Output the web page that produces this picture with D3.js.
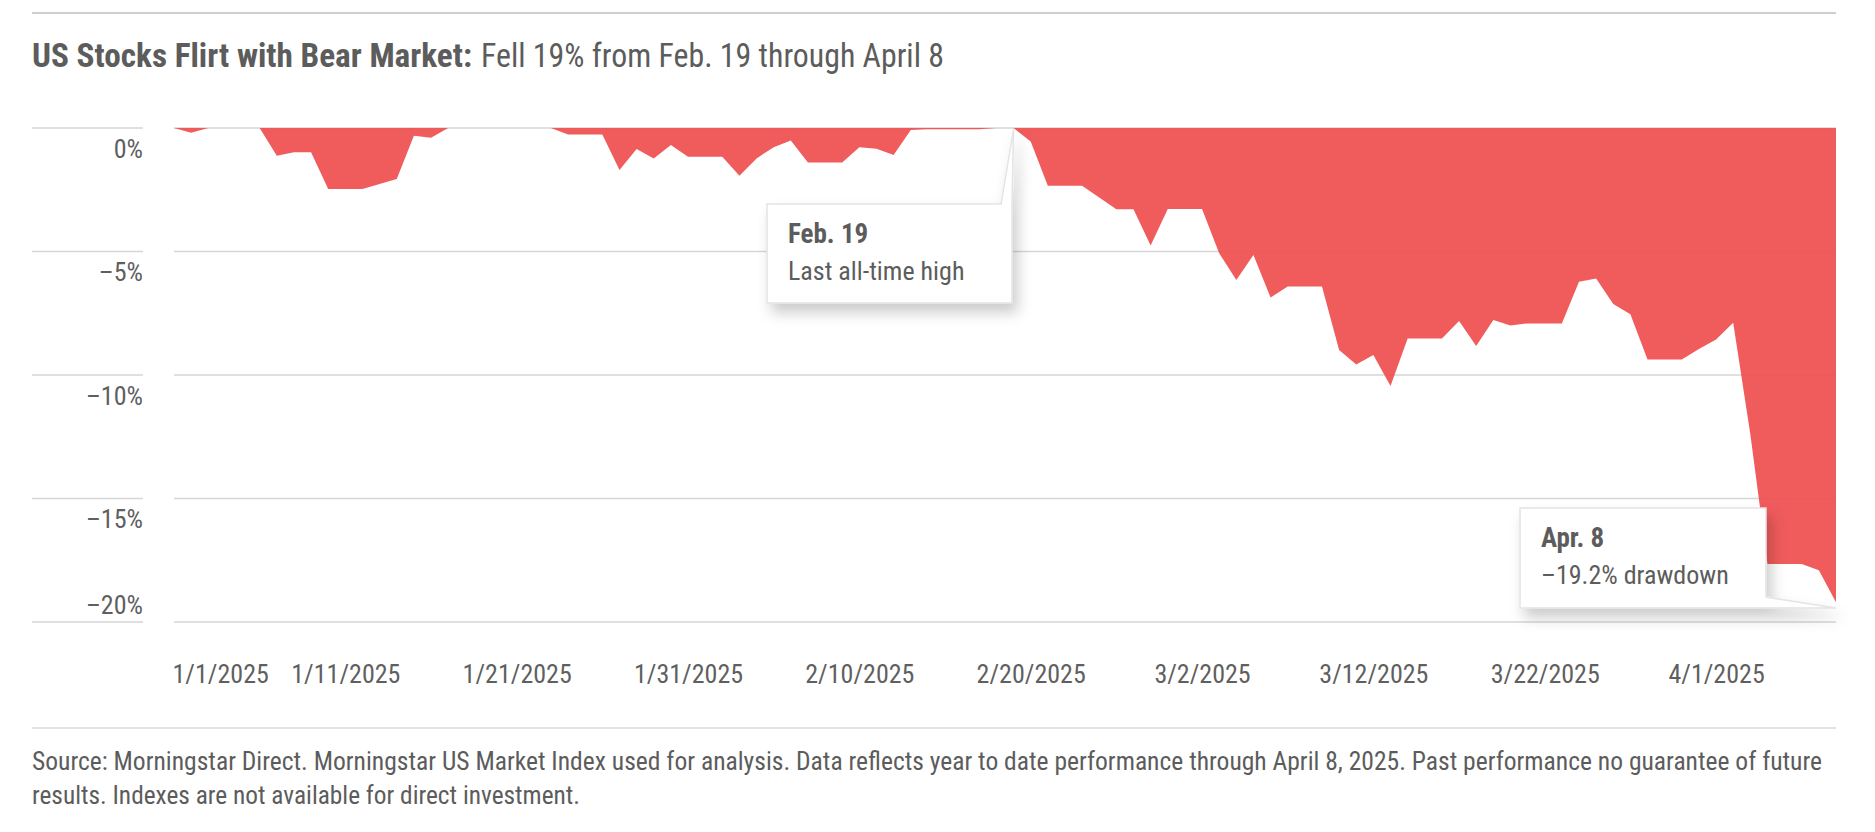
<!DOCTYPE html>
<html>
<head>
<meta charset="utf-8">
<script src="https://cdn.jsdelivr.net/npm/d3@7"></script>
<style>
  html, body { margin: 0; padding: 0; background: #fff; }
  svg text { font-family: 'Roboto Condensed', 'Liberation Sans Narrow', 'Arial Narrow', 'DejaVu Sans Condensed', sans-serif; font-stretch: condensed; fill: #5c5c5c; }
</style>
</head>
<body>
<svg width="1875" height="832"></svg>
<script>
const width = 1875, height = 832;
const svg = d3.select("svg");

// daily drawdown from peak (%), calendar days from 1/1/2025 through 4/8/2025
const startDate = "1/1/2025";
const drawdown = [
    0, -0.19, 0, 0, 0, 0, -1.12, -0.98, -0.98, -2.47,
    -2.47, -2.47, -2.27, -2.06, -0.31, -0.39, 0, 0, 0, 0,
    0, 0, 0, -0.26, -0.26, -0.26, -1.70, -0.85, -1.23, -0.69,
    -1.16, -1.16, -1.16, -1.93, -1.23, -0.78, -0.51, -1.40, -1.40, -1.40,
    -0.78, -0.84, -1.09, -0.08, -0.05, -0.05, -0.05, -0.05, 0, 0,
    -0.55, -2.34, -2.34, -2.34, -2.81, -3.29, -3.29, -4.76, -3.28, -3.28,
    -3.28, -5.07, -6.15, -5.14, -6.86, -6.42, -6.42, -6.42, -8.99, -9.57,
    -9.19, -10.45, -8.52, -8.52, -8.52, -7.81, -8.83, -7.77, -8.00, -7.91,
    -7.91, -7.91, -6.22, -6.09, -7.13, -7.54, -9.37, -9.37, -9.37, -8.95,
    -8.56, -7.88, -12.4, -17.65, -17.65, -17.65, -17.9, -19.2
];

const xTickLabels = ["1/1/2025", "1/11/2025", "1/21/2025", "1/31/2025", "2/10/2025",
    "2/20/2025", "3/2/2025", "3/12/2025", "3/22/2025", "4/1/2025"];
const yTicks = [0, -5, -10, -15, -20];
const yTickLabels = ["0%", "\u20135%", "\u201310%", "\u201315%", "\u201320%"];

const titleBold = "US Stocks Flirt with Bear Market:";
const titleRest = "Fell 19% from Feb. 19 through April 8";
const sourceLines = [
    "Source: Morningstar Direct. Morningstar US Market Index used for analysis. Data reflects year to date performance through April 8, 2025. Past performance no guarantee of future",
    "results. Indexes are not available for direct investment."
];
const callouts = [
    { date: "2/19/2025", head: "Feb. 19", body: "Last all-time high" },
    { date: "4/8/2025", head: "Apr. 8", body: "\u201319.2% drawdown" }
];

const parseDate = d3.timeParse("%m/%d/%Y");
const fmtDate = d3.timeFormat("%-m/%-d/%Y");
const day0 = parseDate(startDate);
const data = drawdown.map((v, i) => ({ date: d3.timeDay.offset(day0, i), value: v }));

const plotLeft = 174, plotRight = 1836, plotTop = 128, plotBottom = 622;
const x = d3.scaleTime()
    .domain(d3.extent(data, d => d.date))
    .range([plotLeft, plotRight]);
const y = d3.scaleLinear()
    .domain([0, -20])
    .range([plotTop, plotBottom]);

function fit(sel, w) {
    sel.attr("textLength", w).attr("lengthAdjust", "spacingAndGlyphs");
}

// drop shadow for the callouts
const defs = svg.append("defs");
defs.append("filter")
    .attr("id", "shadow")
    .attr("x", "-20%").attr("y", "-20%").attr("width", "150%").attr("height", "160%")
  .append("feDropShadow")
    .attr("dx", 5).attr("dy", 9)
    .attr("stdDeviation", 7)
    .attr("flood-color", "#000")
    .attr("flood-opacity", 0.2);

// top rule and title
svg.append("line")
    .attr("x1", 32).attr("x2", plotRight)
    .attr("y1", 13).attr("y2", 13)
    .attr("stroke", "#cfcfcf").attr("stroke-width", 2);

svg.append("text")
    .attr("x", 32).attr("y", 67)
    .style("font-size", "34px").style("font-weight", "bold")
    .text(titleBold)
    .call(fit, 440);
svg.append("text")
    .attr("x", 481).attr("y", 67)
    .style("font-size", "34px")
    .text(titleRest)
    .call(fit, 463);

// gridlines: short segment under the labels plus the plot-wide line
const grid = svg.append("g");
yTicks.forEach(t => {
    grid.append("line")
        .attr("x1", 32).attr("x2", 143)
        .attr("y1", y(t)).attr("y2", y(t))
        .attr("stroke", "#d6d6d6").attr("stroke-width", 1.5);
    grid.append("line")
        .attr("x1", plotLeft).attr("x2", plotRight)
        .attr("y1", y(t)).attr("y2", y(t))
        .attr("stroke", "#d6d6d6").attr("stroke-width", 1.5);
});

// drawdown area
const area = d3.area()
    .x(d => x(d.date))
    .y0(y(0))
    .y1(d => y(d.value));

svg.append("path")
    .datum(data)
    .attr("fill", "#ef4f50")
    .attr("fill-opacity", 0.93)
    .attr("d", area);

// y axis labels
const yAxis = svg.append("g")
    .attr("transform", "translate(143,0)")
    .call(d3.axisLeft(y).tickValues(yTicks).tickSize(0).tickPadding(0)
        .tickFormat((d, i) => yTickLabels[i]));
yAxis.select(".domain").remove();
yAxis.selectAll("text")
    .style("font-size", "26px")
    .style("fill", "#5f5f5f")
    .attr("dy", (d, i) => i === yTicks.length - 1 ? "-9px" : "29px");

// x axis labels
const xAxis = svg.append("g")
    .attr("transform", "translate(0,683)")
    .call(d3.axisBottom(x).tickValues(xTickLabels.map(parseDate)).tickSize(0).tickPadding(0)
        .tickFormat(fmtDate));
xAxis.select(".domain").remove();
xAxis.selectAll("text")
    .style("font-size", "26px")
    .style("fill", "#5f5f5f")
    .attr("dy", 0);
// first label is pushed inside the plot edge
xAxis.selectAll("text")
    .filter((d, i) => i === 0)
    .attr("text-anchor", "start")
    .attr("x", -2);

// callouts
function callout(c, box, tip, tail) {
    const g = svg.append("g");
    const p = d3.path();
    p.moveTo(box.x0, box.y0);
    if (tail === "top") {
        p.lineTo(box.x1 - 11, box.y0);
        p.lineTo(tip[0], tip[1]);
        p.lineTo(box.x1, box.y0);
        p.lineTo(box.x1, box.y1);
    } else {
        p.lineTo(box.x1, box.y0);
        p.lineTo(box.x1, box.y1 - 11);
        p.lineTo(tip[0], tip[1]);
        p.lineTo(box.x1, box.y1);
    }
    p.lineTo(box.x0, box.y1);
    p.closePath();
    g.append("path")
        .attr("d", p.toString())
        .attr("fill", "#fff")
        .attr("stroke", "#e4e4e4")
        .attr("stroke-width", 1.5)
        .attr("filter", "url(#shadow)");
    g.append("text")
        .attr("x", box.x0 + 21).attr("y", box.y0 + 39)
        .style("font-size", "27px").style("font-weight", "bold")
        .text(c.head);
    g.append("text")
        .attr("x", box.x0 + 21).attr("y", box.y0 + 76)
        .style("font-size", "26px")
        .text(c.body);
}

const feb = parseDate(callouts[0].date);
callout(callouts[0], { x0: 767, x1: 1012, y0: 204, y1: 303 },
    [x(feb), y(0) + 1], "top");
const apr = parseDate(callouts[1].date);
callout(callouts[1], { x0: 1520, x1: 1766, y0: 508, y1: 608 },
    [x(apr), 608], "right");

// bottom rule and source note
svg.append("line")
    .attr("x1", 32).attr("x2", plotRight)
    .attr("y1", 728).attr("y2", 728)
    .attr("stroke", "#e3e3e3").attr("stroke-width", 2);

svg.selectAll(".source")
    .data(sourceLines)
    .enter().append("text")
    .attr("class", "source")
    .attr("x", 32)
    .attr("y", (d, i) => 770 + i * 34)
    .style("font-size", "25px")
    .text(d => d)
    .each(function(d, i) { d3.select(this).call(fit, i === 0 ? 1790 : 548); });
</script>
</body>
</html>
